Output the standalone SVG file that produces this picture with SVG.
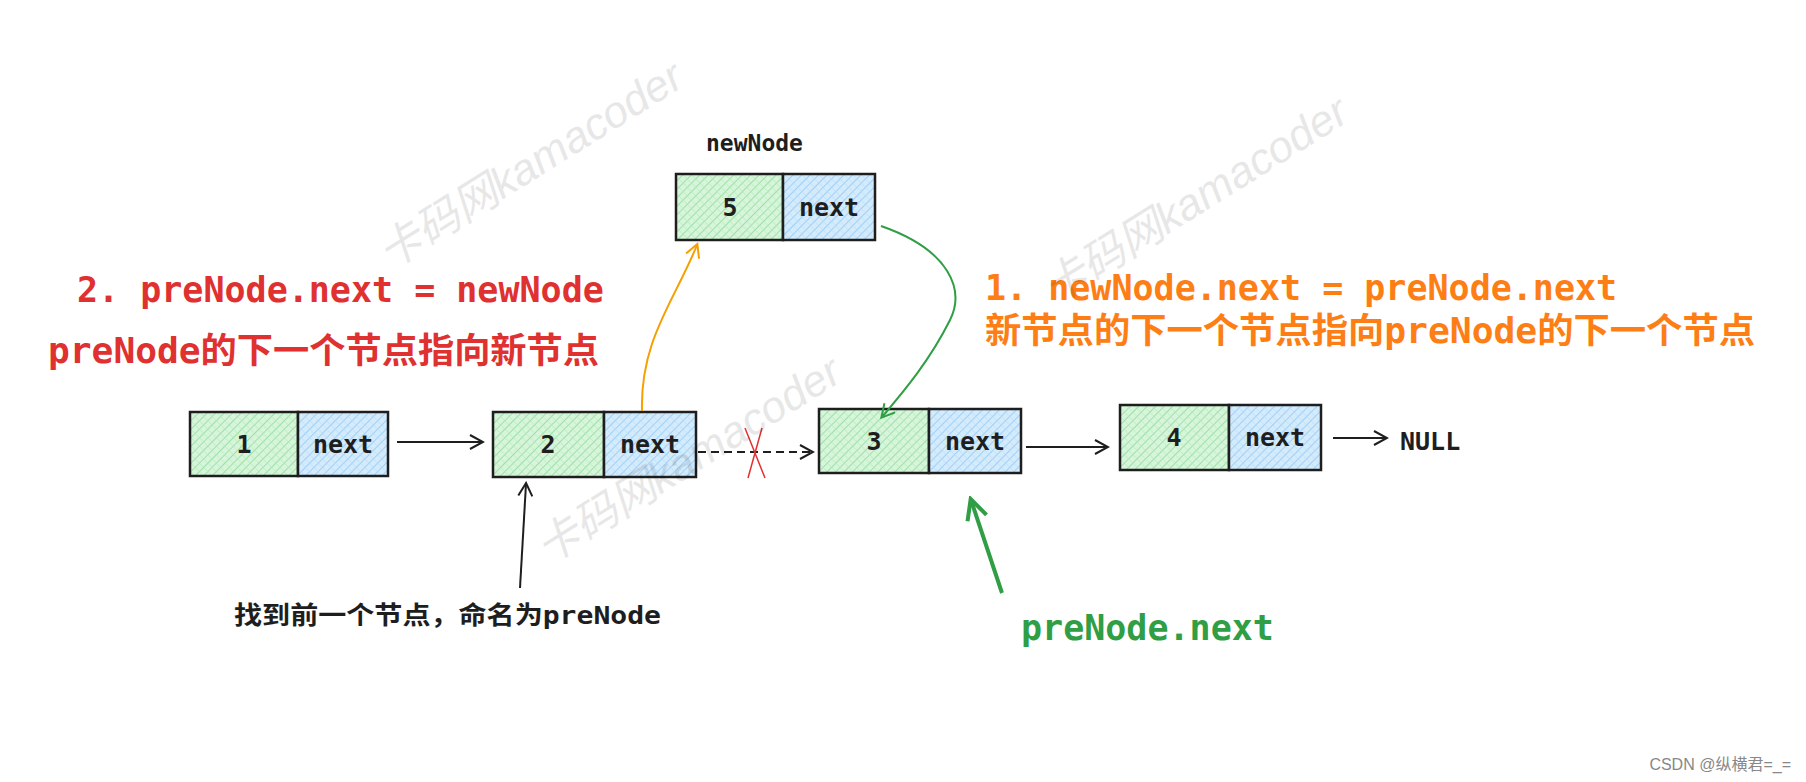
<svg xmlns="http://www.w3.org/2000/svg" width="1806" height="782" viewBox="0 0 1806 782">
<defs>
<pattern id="hg" width="6" height="6" patternUnits="userSpaceOnUse" patternTransform="rotate(45)"><rect width="6" height="6" fill="#d6f5da"/><line x1="0" y1="0" x2="0" y2="6" stroke="#9fe0a8" stroke-width="2"/><line x1="0" y1="0" x2="6" y2="0" stroke="#b5e8bb" stroke-width="1"/></pattern>
<pattern id="hb" width="6" height="6" patternUnits="userSpaceOnUse" patternTransform="rotate(45)"><rect width="6" height="6" fill="#d4ebfc"/><line x1="0" y1="0" x2="0" y2="6" stroke="#9fcff5" stroke-width="2"/><line x1="0" y1="0" x2="6" y2="0" stroke="#b6dcf8" stroke-width="1"/></pattern>
<marker id="ak" markerWidth="16" markerHeight="16" refX="13" refY="8" orient="auto" markerUnits="userSpaceOnUse"><path d="M1,1 L14,8 L1,15" fill="none" stroke="#1e1e1e" stroke-width="2"/></marker>
<marker id="ao" markerWidth="16" markerHeight="16" refX="13" refY="8" orient="auto" markerUnits="userSpaceOnUse"><path d="M1,1 L14,8 L1,15" fill="none" stroke="#f59f00" stroke-width="2"/></marker>
<marker id="ag" markerWidth="16" markerHeight="16" refX="13" refY="8" orient="auto" markerUnits="userSpaceOnUse"><path d="M1,1 L14,8 L1,15" fill="none" stroke="#2f9e44" stroke-width="2"/></marker>
<marker id="ag2" markerWidth="24" markerHeight="24" refX="20" refY="12" orient="auto" markerUnits="userSpaceOnUse"><path d="M1,2 L21,12 L1,22" fill="none" stroke="#2f9e44" stroke-width="4"/></marker>
</defs>
<style>
.v{fill:url(#hg);stroke:#1e1e1e;stroke-width:2.5}
.n{fill:url(#hb);stroke:#1e1e1e;stroke-width:2.5}
.t{font-family:"DejaVu Sans Mono","Noto Sans CJK SC",monospace;font-weight:bold;font-size:25px;fill:#1e1e1e;text-anchor:middle}
.big{font-family:"DejaVu Sans Mono","Noto Sans CJK SC",monospace;font-weight:bold;font-size:35px}
.c{fill:none;stroke:#1e1e1e;stroke-width:2}
.wm{font-family:"Liberation Sans","Noto Sans CJK SC",sans-serif;font-style:italic;font-size:44px;fill:#000;opacity:0.09}
</style>
<rect width="1806" height="782" fill="#fff"/>
<g id="node1"><rect class="v" x="190" y="412" width="108" height="64"/><rect class="n" x="298" y="412" width="90" height="64"/><text class="t" x="244" y="453">1</text><text class="t" x="343" y="453">next</text></g>
<g id="node2"><rect class="v" x="493" y="412" width="111" height="65"/><rect class="n" x="604" y="412" width="92" height="65"/><text class="t" x="548" y="453">2</text><text class="t" x="650" y="453">next</text></g>
<g id="node3"><rect class="v" x="819" y="409" width="110" height="64"/><rect class="n" x="929" y="409" width="92" height="64"/><text class="t" x="874" y="450">3</text><text class="t" x="975" y="450">next</text></g>
<g id="node4"><rect class="v" x="1120" y="405" width="109" height="65"/><rect class="n" x="1229" y="405" width="92" height="65"/><text class="t" x="1174" y="446">4</text><text class="t" x="1275" y="446">next</text></g>
<g id="node5"><rect class="v" x="676" y="174" width="107" height="66"/><rect class="n" x="783" y="174" width="92" height="66"/><text class="t" x="730" y="216">5</text><text class="t" x="829" y="216">next</text></g>
<g id="null"><text class="t" x="1400" y="450" style="text-anchor:start">NULL</text></g>
<g id="connectors">
<path class="c" d="M397,442 L482,442" marker-end="url(#ak)"/>
<path class="c" d="M698,452 L812,452" stroke-dasharray="8,5" marker-end="url(#ak)"/>
<path d="M745,428 L765,478 M762,428 L748,478" stroke="#e03131" stroke-width="1.5" fill="none"/>
<path class="c" d="M1026,447 L1107,447" marker-end="url(#ak)"/>
<path class="c" d="M1333,438 L1386,438" marker-end="url(#ak)"/>
<path d="M642,411 C640,340 675,300 697,245" fill="none" stroke="#f59f00" stroke-width="2" marker-end="url(#ao)"/>
<path d="M881,226 C950,250 965,290 950,320 C930,360 905,390 882,417" fill="none" stroke="#2f9e44" stroke-width="2" marker-end="url(#ag)"/>
<path class="c" d="M520,588 L526,484" marker-end="url(#ak)"/>
<path d="M1002,593 L971,500" fill="none" stroke="#2f9e44" stroke-width="4" marker-end="url(#ag2)"/>
</g>
<g id="labels">
<text class="t" x="706" y="151" style="text-anchor:start;font-size:23px">newNode</text>
<text class="big" x="77" y="302" fill="#e03131">2. preNode.next = newNode</text>
<text class="big" x="48" y="363" fill="#e03131" textLength="551" lengthAdjust="spacingAndGlyphs">preNode的下一个节点指向新节点</text>
<text class="big" x="985" y="300" fill="#fd7e14">1. newNode.next = preNode.next</text>
<text class="big" x="985" y="343" fill="#fd7e14" textLength="770" lengthAdjust="spacingAndGlyphs">新节点的下一个节点指向preNode的下一个节点</text>
<text class="t" x="234" y="624" style="text-anchor:start" textLength="427" lengthAdjust="spacingAndGlyphs">找到前一个节点，命名为preNode</text>
<text class="big" x="1021" y="640" fill="#2f9e44">preNode.next</text>
</g>
<g id="watermarks">
<text class="wm" transform="translate(390,270) rotate(-32)">卡码网kamacoder</text>
<text class="wm" transform="translate(548,565) rotate(-32)">卡码网kamacoder</text>
<text class="wm" transform="translate(1055,305) rotate(-32)">卡码网kamacoder</text>
</g>
<text x="1791" y="770" text-anchor="end" font-family="Liberation Sans,'Noto Sans CJK SC',sans-serif" font-size="16" fill="#888">CSDN @纵横君=_=</text>
</svg>
